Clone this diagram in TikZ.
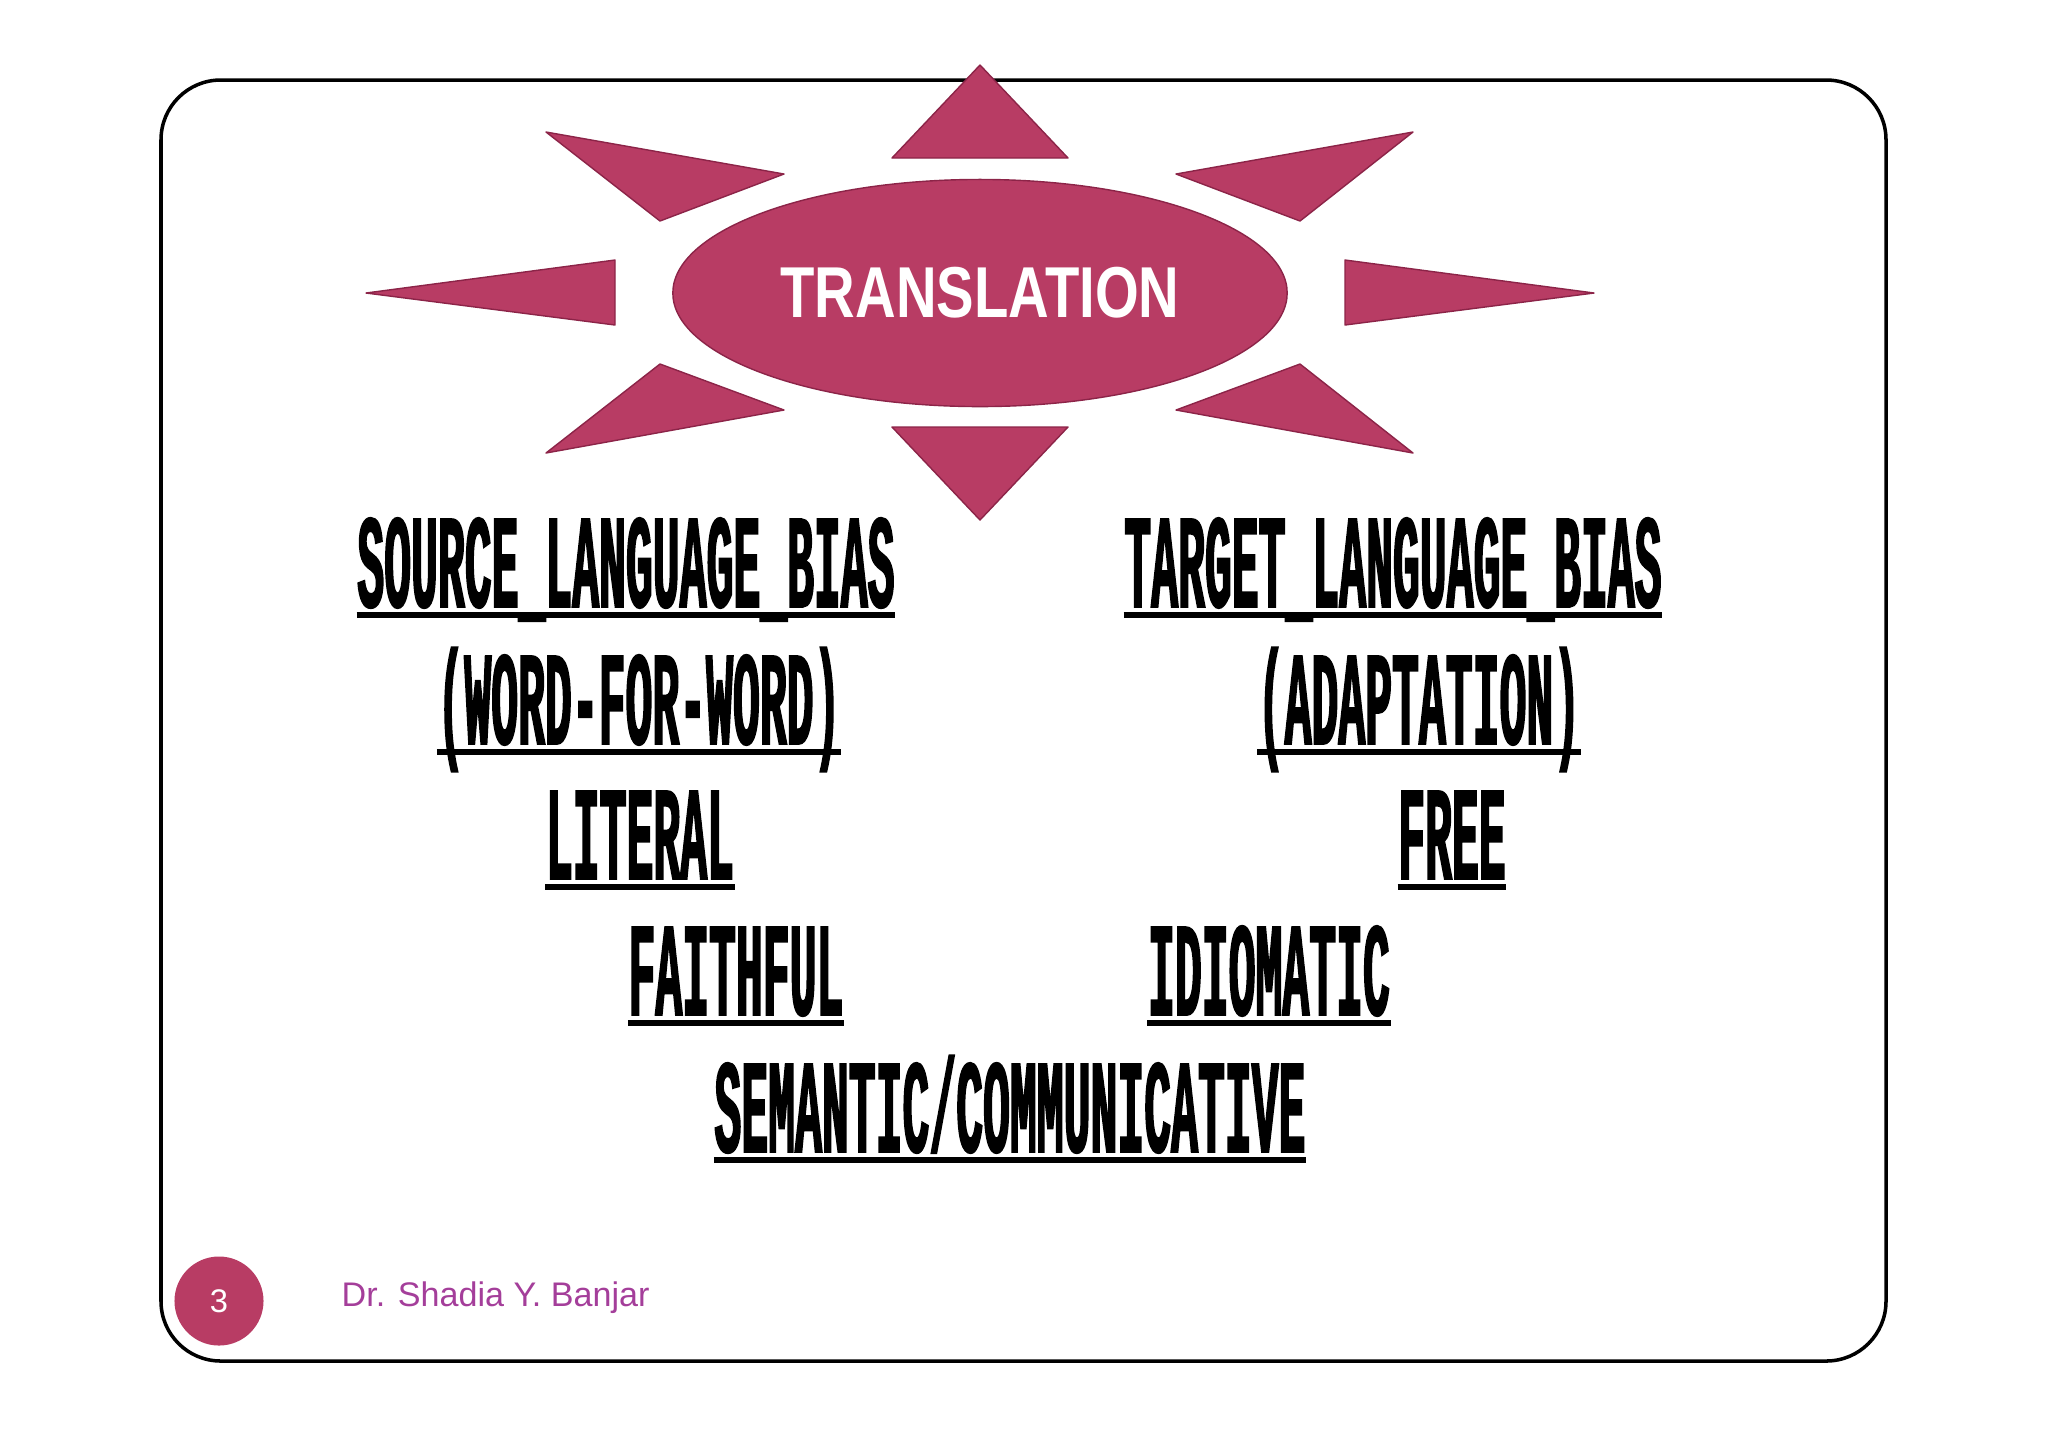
\documentclass[tikz,border=0pt]{standalone}
\usepackage{fontspec}
\setmainfont{Liberation Sans}
\newfontfamily\slabfont{Liberation Mono}[UprightFont={* Bold},FakeStretch=0.335,FakeBold=1.2]
\newfontfamily\sunfont{Liberation Sans}[UprightFont={* Bold},FakeStretch=0.78]
\usetikzlibrary{shapes.geometric,positioning}
\definecolor{sunred}{RGB}{184,60,100}
\definecolor{sunedge}{RGB}{140,36,72}
\definecolor{authorpurple}{RGB}{164,62,154}
\tikzset
{
  sunray/.style    = {fill=sunred, draw=sunedge, line width=0.4pt, line join=round},
  sunbody/.style   = {ellipse, fill=sunred, draw=sunedge, line width=0.4pt, minimum width=6.14cm, minimum height=2.27cm, text=white, font=\sunfont\fontsize{20.5}{22}\selectfont},
  biasword/.style  = {anchor=base, inner sep=0pt, font=\slabfont\fontsize{38}{40}\selectfont},
  biasline/.style  = {line width=1.8pt},
  pagebadge/.style = {circle, fill=sunred, minimum size=0.89cm, inner sep=0pt, text=white, font=\fontsize{9.3}{11}\selectfont},
  authortext/.style= {anchor=base west, inner sep=0pt, text=authorpurple, font=\fontsize{9.7}{11}\selectfont}
}

\begin{document}
\begin{tikzpicture}[x=0.01cm,y=-0.01cm]
            \useasboundingbox (0,0) rectangle (2048,1447);
            \draw[line width=1pt, rounded corners=17pt] (161,80) rectangle (1886,1361);
            % rays
            \draw[sunray] (980,65) -- (1068,158) -- (892,158) -- cycle;
            \draw[sunray] (980,520) -- (1068,427) -- (892,427) -- cycle;
            \draw[sunray] (366,293) -- (615,260) -- (615,325) -- cycle;
            \draw[sunray] (1594,293) -- (1345,260) -- (1345,325) -- cycle;
            \draw[sunray] (546,132) -- (784,174) -- (660,221) -- cycle;
            \draw[sunray] (1413,132) -- (1176,174) -- (1300,221) -- cycle;
            \draw[sunray] (546,453) -- (784,410) -- (660,364) -- cycle;
            \draw[sunray] (1413,453) -- (1176,410) -- (1300,364) -- cycle;
            \node [sunbody] (sun) at (980,293) {TRANSLATION};
            % two columns
            \node [biasword] (slb) at (626,607)  {SOURCE\_LANGUAGE\_BIAS};
            \node [biasword] (tlb) at (1393,607) {TARGET\_LANGUAGE\_BIAS};
            \node [biasword] (wfw) at (639,744)  {(WORD-FOR-WORD)};
            \node [biasword] (adp) at (1419,744) {(ADAPTATION)};
            \node [biasword] (lit) at (640,879)  {LITERAL};
            \node [biasword] (fre) at (1452,879) {FREE};
            \node [biasword] (fai) at (736,1015) {FAITHFUL};
            \node [biasword] (idi) at (1269,1015) {IDIOMATIC};
            \node [biasword] (sem) at (1010,1152) {SEMANTIC/COMMUNICATIVE};
            \foreach \n in {slb,tlb,wfw,adp,lit,fre,fai,idi,sem}
              \draw[biasline] ([yshift=-2.2pt]\n.base west) -- ([yshift=-2.2pt]\n.base east);
            % footer
            \node [pagebadge] (page) at (219,1301) {3};
            \node [authortext] (author) at (341,1306) {Dr. Shadia Y. Banjar};
\end{tikzpicture}
\end{document}
